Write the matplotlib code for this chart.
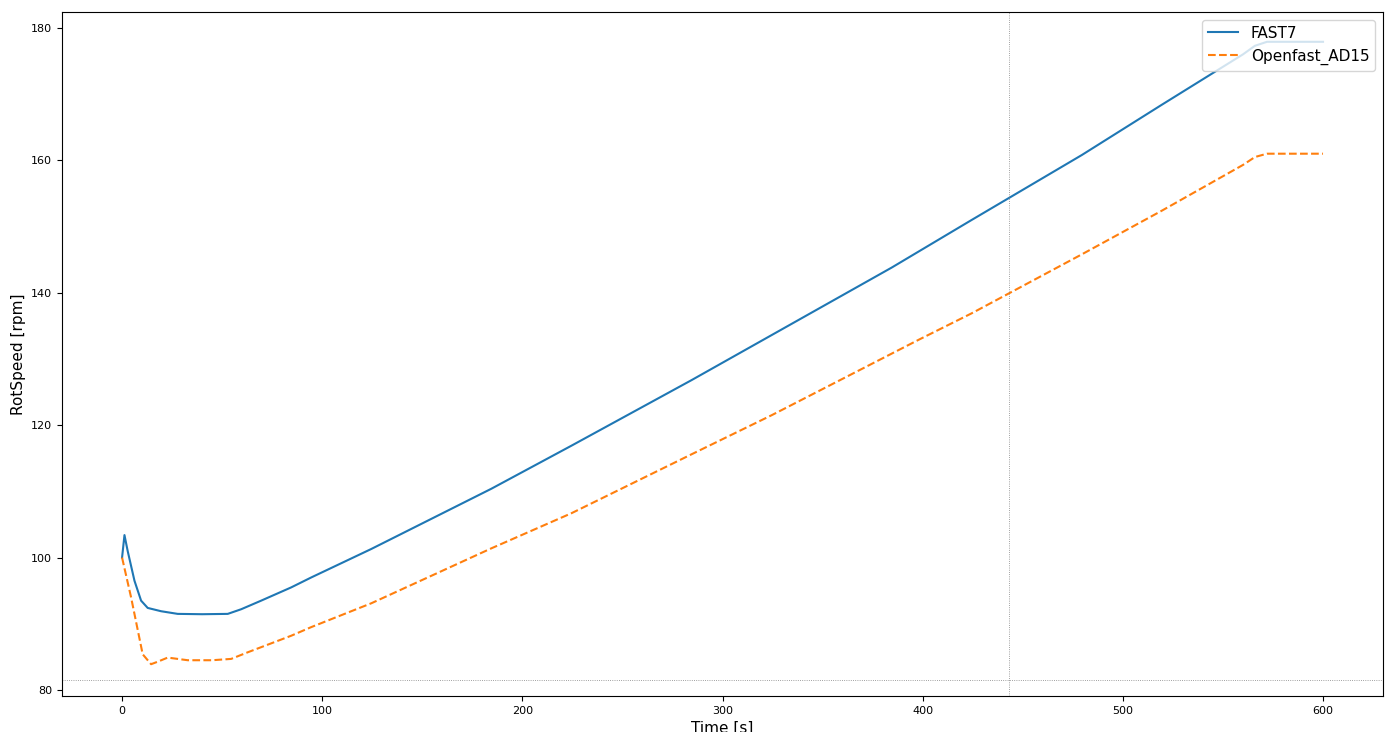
import matplotlib
matplotlib.use("Agg")
import matplotlib.pyplot as plt

# values (time [s], rotor speed [rpm])
t_fast7 = [0, 1.2, 2.8, 6.2, 9.5, 12.8, 19.5, 27.8, 40, 52.8, 59.5, 69.5, 84.5, 94.5,
           124.5, 184.5, 224.5, 284.5, 324.5, 384.5, 424.5, 479.5, 519.5, 560, 566, 572, 600]
rpm_fast7 = [100, 103.4, 101, 96.5, 93.5, 92.4, 91.9, 91.5, 91.45, 91.5, 92.2, 93.5, 95.5, 97.0,
             101.3, 110.4, 116.9, 126.8, 133.6, 143.8, 151.0, 160.8, 168.4, 176.0, 177.3, 177.9, 177.9]

t_of = [0, 4.5, 10.3, 14.5, 18, 22.8, 32.8, 45, 54.5, 62.8, 84.5, 94.5, 124.5, 184.5,
        224.5, 284.5, 324.5, 398, 424.5, 479.5, 519.5, 560, 566, 572, 600]
rpm_of = [100, 94, 85.4, 83.9, 84.3, 84.9, 84.5, 84.5, 84.7, 85.7, 88.2, 89.5, 93.1, 101.4,
          106.7, 115.6, 121.5, 132.9, 136.9, 145.8, 152.4, 159.3, 160.5, 161.0, 161.0]

cursor_t, cursor_rpm = 443, 81.5

fig = plt.figure(figsize=(14, 7.32), dpi=100)
ax = fig.add_axes([0.0443, 0.0492, 0.9436, 0.9344])

ax.plot(t_fast7, rpm_fast7, color='tab:blue', lw=1.5, label='FAST7')
ax.plot(t_of, rpm_of, color='tab:orange', lw=1.5, ls='--', label='Openfast_AD15')

ax.axvline(cursor_t, color='grey', ls=':', lw=0.6)
ax.axhline(cursor_rpm, color='grey', ls=':', lw=0.6)

ax.set_xlim(-30, 630)
ax.set_ylim(79.1, 182.4)
ax.tick_params(labelsize=8)
ax.set_xlabel('Time [s]', fontsize=11)
ax.set_ylabel('RotSpeed [rpm]', fontsize=11)
ax.legend(loc='upper right', fontsize=11)

fig.savefig('out.png', dpi=100)
